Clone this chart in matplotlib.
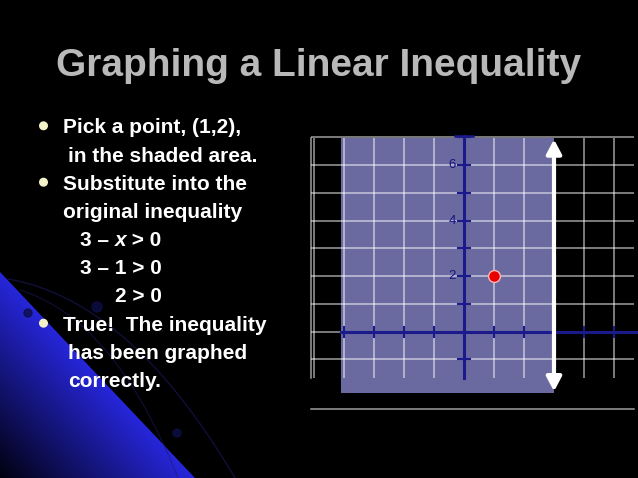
import numpy as np
import matplotlib
matplotlib.use("Agg")
import matplotlib.pyplot as plt
from matplotlib.patches import Polygon, Rectangle, Circle

# ---------------- data ----------------
title = "Graphing a Linear Inequality"
bullet_lines = [
    # (list of (text, italic) pieces, indent_px, bullet?)
    ([("Pick a point, (1,2),", False)], 63, True),
    ([("in the shaded area.", False)], 68, False),
    ([("Substitute into the", False)], 63, True),
    ([("original inequality", False)], 63, False),
    ([("3 \u2013 ", False), ("x", True), (" > 0", False)], 80, False),
    ([("3 \u2013 1 > 0", False)], 80, False),
    ([("2 > 0", False)], 115, False),
    ([("True!  The inequality", False)], 63, True),
    ([("has been graphed", False)], 68, False),
    ([("correctly.", False)], 68, False),
]
grid_x = [-5, -4, -3, -2, -1, 1, 2, 4, 5]
grid_y = [-1, 1, 2, 3, 4, 5, 6, 7]
x_ticks = [-4, -3, -2, -1, 0, 1, 2, 4, 5]
y_ticks = [-1, 1, 2, 3, 4, 5, 6, 7]
y_labels = [2, 4, 6]
boundary_x = 3          # 3 - x > 0  ->  x < 3
test_point = (1, 2)

W, H = 638, 478
fig = plt.figure(figsize=(W / 100, H / 100), dpi=100, facecolor="black")
renderer = fig.canvas.get_renderer()

# -------- background axes in pixel coordinates --------
bg = fig.add_axes([0, 0, 1, 1])
bg.set_xlim(0, W)
bg.set_ylim(H, 0)
bg.axis("off")
bg.set_facecolor("black")

# blue swoosh decoration bottom-left
p0 = np.array([0.0, 272.0])
p1 = np.array([195.0, 478.0])
d = (p1 - p0) / np.linalg.norm(p1 - p0)
nrm = np.array([d[1], -d[0]])
xx, yy = np.meshgrid(np.arange(0, 200), np.arange(260, 479))
dist = np.abs((xx - p0[0]) * nrm[0] + (yy - p0[1]) * nrm[1])
t = np.clip(1 - dist / 145.0, 0, 1)
img = np.zeros(xx.shape + (3,))
img[..., 0] = 0.15 * t
img[..., 1] = 0.15 * t
img[..., 2] = 0.04 + 0.82 * t
im = bg.imshow(img, extent=(0, 200, 479, 260), origin="upper", zorder=1,
               interpolation="bilinear")
tri = Polygon([[0, 272], [195, 478], [0, 478]], closed=True,
              transform=bg.transData, facecolor="none", edgecolor="none")
bg.add_patch(tri)
im.set_clip_path(tri)

# faint arcs
s = np.linspace(0, 1, 100)
for (a, b, c, lw) in [((8, 279), (130, 300), (235, 478), 1.0),
                      ((20, 290), (115, 320), (178, 478), 0.8)]:
    a, b, c = map(np.array, (a, b, c))
    pts = ((1 - s) ** 2)[:, None] * a + (2 * s * (1 - s))[:, None] * b + (s ** 2)[:, None] * c
    bg.plot(pts[:, 0], pts[:, 1], color="#1c1c6a", lw=lw, alpha=0.55, zorder=2)
for (cx, cy, r) in [(28, 313, 4), (97, 307, 5), (177, 433, 4)]:
    bg.add_patch(Circle((cx, cy), r, color="#0e0e48", alpha=0.8, zorder=2))

# title
bg.text(319, 76, title, ha="center", va="baseline", color="#b9b9b9",
        fontsize=28, fontweight="bold", family="Liberation Sans", zorder=5)

# bullet text
base0, step = 133.3, 28.2
for i, (pieces, xpx, has_b) in enumerate(bullet_lines):
    yb = base0 + i * step
    xcur = xpx
    for txt, ital in pieces:
        tt = bg.text(xcur, yb, txt, ha="left", va="baseline", color="white",
                     fontsize=15, fontweight="bold",
                     fontstyle="italic" if ital else "normal",
                     family="Liberation Sans", zorder=5)
        ext = tt.get_window_extent(renderer=renderer)
        xcur += ext.width
    if has_b:
        bg.add_patch(Circle((43.5, yb - 7.5), 3.8, color="#f4f2c8", zorder=5))

# -------- graph axes --------
L, R, T, B = 310, 638, 130, 420
X0, XU = 464.0, 30.0
Y0, YU = 331.7, 27.75
ax = fig.add_axes([L / W, 1 - B / H, (R - L) / W, (B - T) / H])
ax.set_xlim((L - X0) / XU, (R - X0) / XU)
ax.set_ylim((Y0 - B) / YU, (Y0 - T) / YU)
ax.axis("off")
ax.patch.set_alpha(0)

xmin_g, xmax_g = -5.1, 5.65
ymin_g, ymax_g = -1.67, 6.98
shade_left, shade_bottom = -4.1, -2.2

# shaded solution region x < 3
ax.add_patch(Rectangle((shade_left, shade_bottom), boundary_x - shade_left,
                       ymax_g - shade_bottom, facecolor="#6a6aa0",
                       edgecolor="none", zorder=1))

gcol = (1, 1, 1, 0.62)
for gy in grid_y + [0]:
    ax.plot([xmin_g, xmax_g], [gy, gy], color=gcol, lw=1.1, zorder=2,
            solid_capstyle="butt")
ax.plot([xmin_g, xmax_g], [-2.79, -2.79], color=gcol, lw=1.1, zorder=2)
for gx in grid_x:
    ax.plot([gx, gx], [ymin_g, ymax_g], color=gcol, lw=1.1, zorder=2,
            solid_capstyle="butt")
ax.plot([xmin_g, xmin_g], [ymin_g, ymax_g], color=gcol, lw=1.1, zorder=2)

acol = "#1a1a8a"
# x-axis
ax.plot([shade_left, 5.75], [0, 0], color=acol, lw=2.2, zorder=3)
for tx in x_ticks:
    ax.plot([tx, tx], [-0.18, 0.18], color=acol, lw=1.5, zorder=3)
# y-axis
ax.plot([0, 0], [ymin_g, 7.05], color=acol, lw=2.2, zorder=3)
for ty in y_ticks:
    ax.plot([-0.2, 0.2], [ty, ty], color=acol, lw=1.5, zorder=3)
ax.plot([-0.3, 0.3], [7.05, 7.05], color=acol, lw=1.8, zorder=3)
for yl in y_labels:
    ax.text(-0.27, yl, str(yl), ha="right", va="center", color="#161680",
            fontsize=9.5, family="Liberation Sans", zorder=3)

# boundary line x = 3 with arrows
ax.annotate("", xy=(boundary_x, -2.15), xytext=(boundary_x, 6.93),
            arrowprops=dict(arrowstyle="<|-|>,head_length=0.85,head_width=0.45",
                            color="white", lw=3, shrinkA=0, shrinkB=0),
            zorder=4)

# test point
ax.plot([test_point[0]], [test_point[1]], "o", ms=8.5, mfc="#e80000",
        mec="#ffb4b4", mew=1, zorder=5)

fig.savefig("out.png", dpi=100, facecolor="black")
